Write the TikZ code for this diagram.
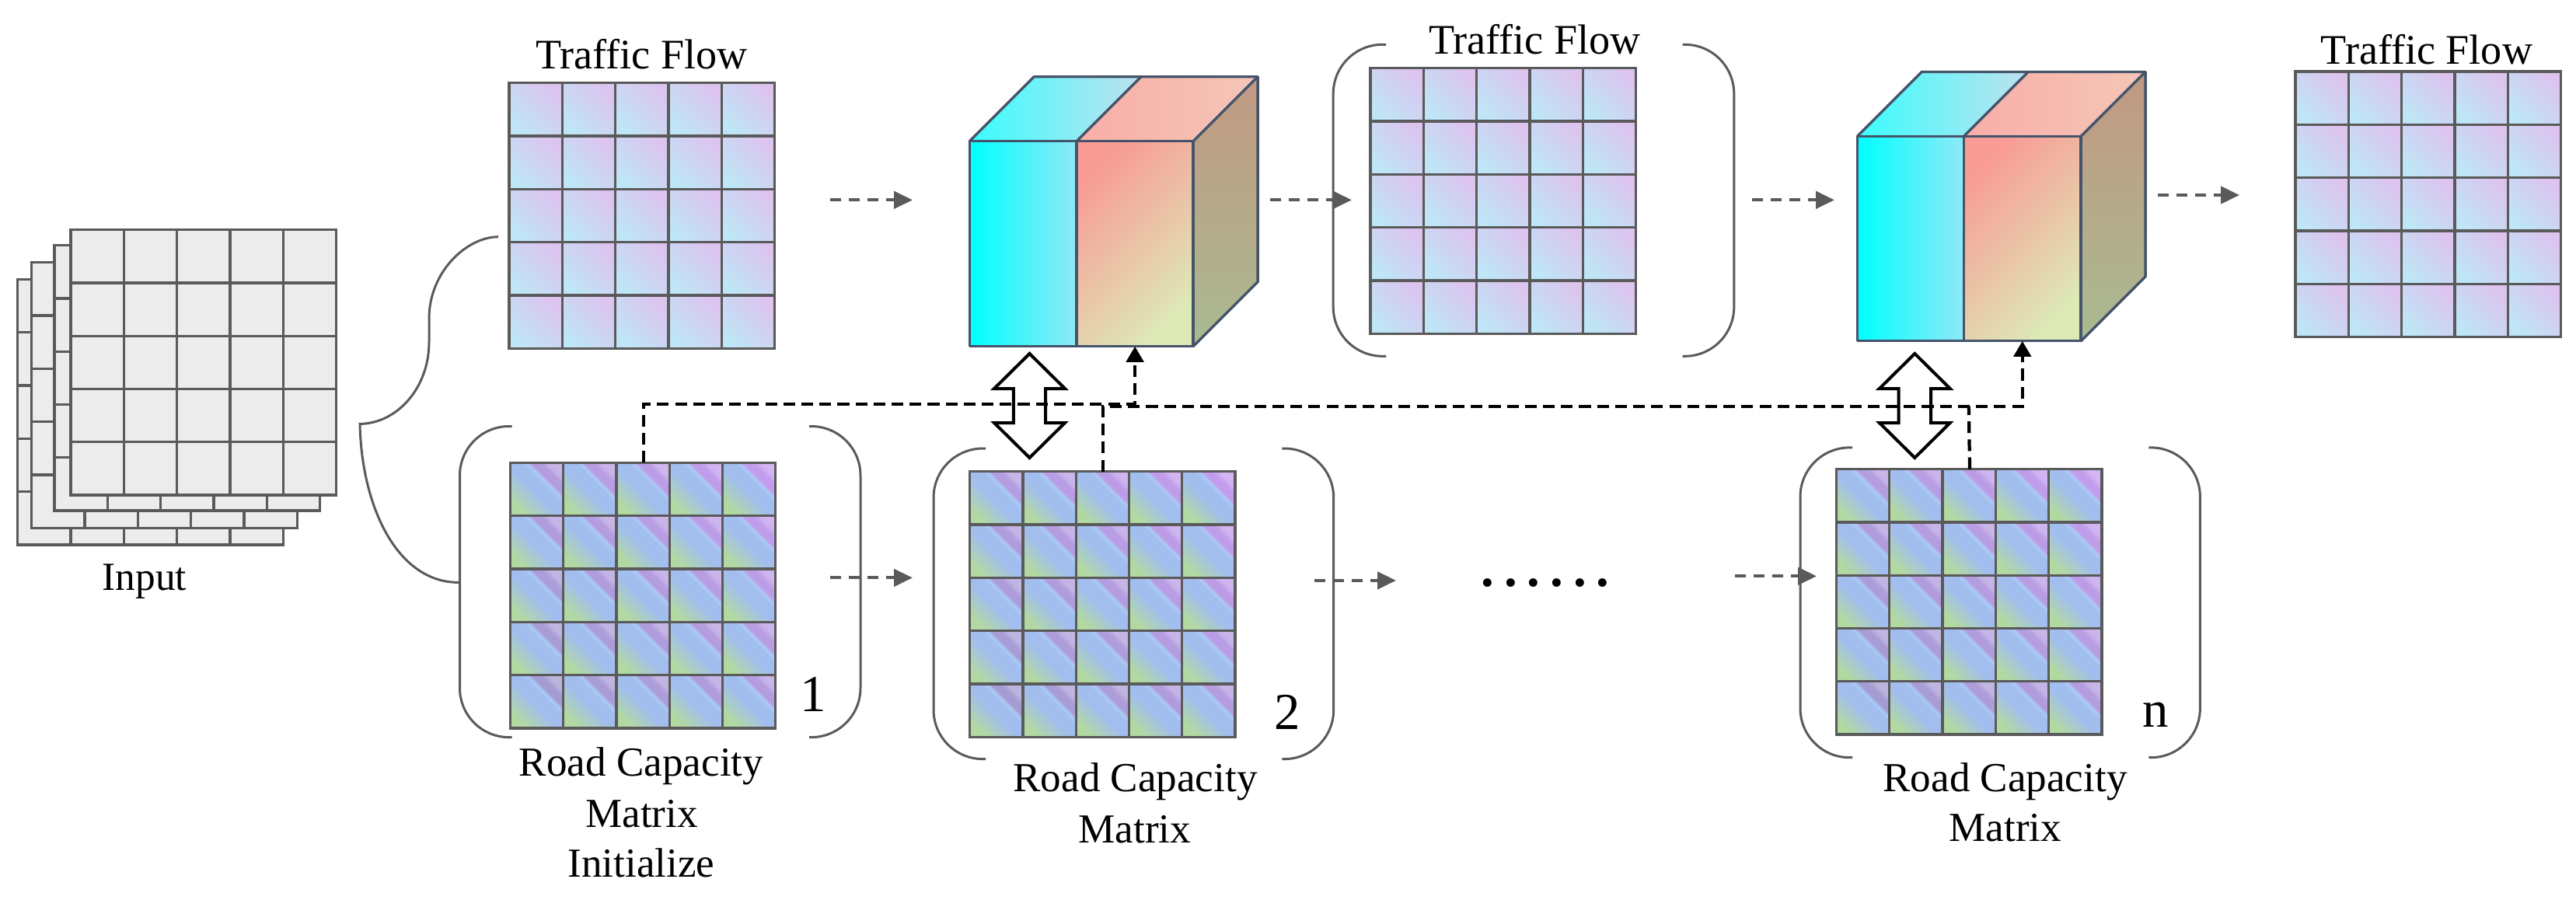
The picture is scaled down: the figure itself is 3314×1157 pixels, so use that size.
\documentclass[tikz,border=0pt]{standalone}
\usepackage{fontspec}
\setmainfont{Liberation Serif}
\usetikzlibrary{arrows.meta}

\definecolor{gridc}{HTML}{5A5A5A}
\definecolor{cubec}{HTML}{45546A}
\definecolor{inpfill}{HTML}{ECECEC}
\definecolor{tfA}{HTML}{BEE6F6}
\definecolor{tfB}{HTML}{DCC4EF}
\definecolor{rcG}{HTML}{B2D9A1}
\definecolor{rcBl}{HTML}{A2BEEE}
\definecolor{rcLt}{HTML}{ABCBF4}
\definecolor{rcPlo}{HTML}{A49CD2}
\definecolor{rcPhi}{HTML}{C49CEE}
\definecolor{cyA}{HTML}{00FFFF}
\definecolor{cyB}{HTML}{8FE9F6}
\definecolor{saA}{HTML}{F89C95}
\definecolor{saB}{HTML}{DDE9B7}
\definecolor{tlA}{HTML}{3AFDFD}
\definecolor{tlB}{HTML}{BFE1EE}
\definecolor{trA}{HTML}{F9AEA8}
\definecolor{trB}{HTML}{F4C6B7}
\definecolor{sdA}{HTML}{C29883}
\definecolor{sdB}{HTML}{A9BB90}
\colorlet{rcP}{rcPlo}
\colorlet{gA}{white}
\colorlet{gB}{white}

\pgfdeclarehorizontalshading[gA,gB]{hgrad}{100bp}{color(0bp)=(gA); color(25bp)=(gA); color(75bp)=(gB); color(100bp)=(gB)}
\pgfdeclarehorizontalshading[rcP]{rcgrad}{100bp}{color(0bp)=(rcG); color(25bp)=(rcG); color(47bp)=(rcBl); color(58bp)=(rcBl); color(61bp)=(rcLt); color(64bp)=(rcP); color(70bp)=(rcP); color(75bp)=(rcP!75!white); color(100bp)=(rcP!75!white)}

\tikzset{
  hg/.style n args={3}{shade, /utils/exec={\colorlet{gA}{#1}\colorlet{gB}{#2}}, shading=hgrad, shading angle=#3},
  gl/.style={draw=gridc, line width=0.94pt},
  brk/.style={draw=gridc, line width=0.85pt, rounded corners=18pt},
  bracecurve/.style={draw=gridc, line width=0.85pt},
  garrow/.style={draw=gridc, line width=1.14pt, dash pattern=on 4pt off 2.8pt, -{Triangle[length=6.8pt,width=6.3pt]}},
  bdash/.style={draw=black, line width=1.2pt, dash pattern=on 4.3pt off 2.3pt},
  barrow/.style={bdash, -{Triangle[length=5.7pt,width=6.3pt]}},
  dbl/.style={draw=black, line width=1.14pt, fill=white, line join=miter},
  cubeline/.style={draw=cubec, line width=0.94pt, line join=round},
  lbl/.style={inner sep=0pt, font=\fontsize{15.4pt}{18pt}\selectfont},
  inlbl/.style={inner sep=0pt, font=\fontsize{14.6pt}{18pt}\selectfont},
  rlbl/.style={inner sep=0pt, font=\fontsize{15.1pt}{18pt}\selectfont},
  num/.style={inner sep=0pt, font=\fontsize{19pt}{22pt}\selectfont},
  gbox/.style={inner sep=0pt, minimum width=3.415cm, minimum height=3.415cm, anchor=north west},
  tfcell/.style={hg={tfA}{tfB}{45}},
  rccell/.style={shade, /utils/exec={\pgfmathsetmacro\mixp{(\i+4-\j)*12.5}\colorlet{rcP}{rcPhi!\mixp!rcPlo}}, shading=rcgrad, shading angle=45},
  incell/.style={fill=inpfill},
}

\newcommand\drawgrid[4]{%
  \node[gbox] (#1) at (#2,#3) {};
  \foreach \i in {0,...,4}{\foreach \j in {0,...,4}{
    \path[#4] ({#2+\i*68.3},{#3+\j*68.3}) rectangle ++(68.3,68.3);}}
  \foreach \k in {1,...,4}{
    \draw[gl] ({#2+\k*68.3},#3) -- ++(0,341.5);
    \draw[gl] (#2,{#3+\k*68.3}) -- ++(341.5,0);}
  \draw[gl] (#2,#3) rectangle ++(341.5,341.5);
}

\newcommand\drawcube[6]{%
  \path[hg={cyA}{cyB}{0}] (#2,#5) rectangle (#3,#6);
  \path[hg={saA}{saB}{-45}] (#3,#5) rectangle (#4,#6);
  \path[hg={tlA}{tlB}{0}] (#2,#5) -- (#3,#5) -- ({#3+83},{#5-83}) -- ({#2+83},{#5-83}) -- cycle;
  \path[hg={trA}{trB}{0}] (#3,#5) -- (#4,#5) -- ({#4+83},{#5-83}) -- ({#3+83},{#5-83}) -- cycle;
  \path[hg={sdA}{sdB}{-90}] (#4,#5) -- ({#4+83},{#5-83}) -- ({#4+83},{#6-83}) -- (#4,#6) -- cycle;
  \draw[cubeline] (#2,#5) rectangle (#4,#6);
  \draw[cubeline] (#3,#5) -- (#3,#6);
  \draw[cubeline] (#2,#5) -- ({#2+83},{#5-83}) -- ({#4+83},{#5-83}) -- ({#4+83},{#6-83}) -- (#4,#6);
  \draw[cubeline] (#3,#5) -- ({#3+83},{#5-83});
  \draw[cubeline] (#4,#5) -- ({#4+83},{#5-83});
  \coordinate (#1R) at ({(#3+#4)/2},#6);
  \coordinate (#1L) at ({(#2+#3)/2},#6);
}

\newcommand\dblarrow[2]{%
  \coordinate (#1) at (#2,522);
  \draw[dbl] (#2,455) -- ({#2+45.5},500) -- ({#2+20.7},500) -- ({#2+20.7},544) -- ({#2+45.5},544) -- (#2,589) -- ({#2-45.5},544) -- ({#2-20.7},544) -- ({#2-20.7},500) -- ({#2-45.5},500) -- cycle;
}

\newcommand\dotrow{\makebox[8.42pt]{.}\makebox[8.42pt]{.}\makebox[8.42pt]{.}\makebox[8.42pt]{.}\makebox[8.42pt]{.}\makebox[8.42pt]{.}}

\begin{document}
\begin{tikzpicture}[x=0.01cm,y=-0.01cm]
\useasboundingbox (0,0) rectangle (3314,1157);

% brace from input
\draw[bracecurve] (641,304.7) .. controls (600,305) and (552,350) .. (552,410) -- (552,440) .. controls (552,500) and (510,545) .. (463,545.4) .. controls (465,650) and (510,749.4) .. (590,749.4);

% brackets
\draw[brk] (658.5,548.5) -- (591.5,548.5) -- (591.5,948.6) -- (658.5,948.6);
\draw[brk] (1041,548.5) -- (1107,548.5) -- (1107,948.6) -- (1041,948.6);
\draw[brk] (1268,577) -- (1201,577) -- (1201,976.6) -- (1268,976.6);
\draw[brk] (1649.4,577) -- (1715.7,577) -- (1715.7,976.6) -- (1649.4,976.6);
\draw[brk] (2383,575.9) -- (2316,575.9) -- (2316,974.7) -- (2383,974.7);
\draw[brk] (2764.3,575.9) -- (2830.4,575.9) -- (2830.4,974.7) -- (2764.3,974.7);
\draw[brk] (1783,57.3) -- (1715.2,57.3) -- (1715.2,458.3) -- (1783,458.3);
\draw[brk] (2164.7,57.3) -- (2230.8,57.3) -- (2230.8,458.3) -- (2164.7,458.3);

% input stack
\drawgrid{inp1}{22.7}{359.4}{incell}
\drawgrid{inp2}{40.7}{337.7}{incell}
\drawgrid{inp3}{70}{315.6}{incell}
\drawgrid{inp4}{91}{295.6}{incell}

% traffic flow grids
\drawgrid{tf1}{655}{106.7}{tfcell}
\drawgrid{tf2}{1763}{87.7}{tfcell}
\drawgrid{tf3}{2953}{92}{tfcell}

% road capacity grids
\drawgrid{rc1}{656.3}{595.4}{rccell}
\drawgrid{rc2}{1247.6}{606.7}{rccell}
\drawgrid{rcn}{2362.5}{603.6}{rccell}

% cubes
\drawcube{cA}{1247.3}{1385.1}{1535.1}{181.7}{445.7}
\drawcube{cB}{2389.3}{2526.4}{2677.1}{175.4}{438.8}

% double arrows
\dblarrow{da1}{1324.5}
\dblarrow{da2}{2463.3}

% black dashed connectors
\draw[barrow] (rc1.north) -- ++(0,-75.4) -| (cAR);
\draw[barrow] (rc2.north) -- ++(0,-84) -| (cBR);
\coordinate (bj) at (2532.8,522.7);
\draw[bdash] (rcn.north) -- (bj);

% grey dashed arrows
\coordinate (g1s) at (1068,257.3); \coordinate (g1e) at (1174,257.3);
\coordinate (g2s) at (1634,257.3); \coordinate (g2e) at (1739,257.3);
\coordinate (g3s) at (2254,257.3); \coordinate (g3e) at (2360,257.3);
\coordinate (g4s) at (2776,251);   \coordinate (g4e) at (2881,251);
\coordinate (g5s) at (1068,743.4); \coordinate (g5e) at (1174,743.4);
\coordinate (g6s) at (1691,746.9); \coordinate (g6e) at (1796,746.9);
\coordinate (g7s) at (2232,741.3); \coordinate (g7e) at (2337,741.3);
\draw[garrow] (g1s) -- (g1e);
\draw[garrow] (g2s) -- (g2e);
\draw[garrow] (g3s) -- (g3e);
\draw[garrow] (g4s) -- (g4e);
\draw[garrow] (g5s) -- (g5e);
\draw[garrow] (g6s) -- (g6e);
\draw[garrow] (g7s) -- (g7e);

% labels
\node[lbl, anchor=base] (tfl1) at (825.7,88.3) {Traffic Flow};
\node[lbl, anchor=base] (tfl2) at (1974.5,69) {Traffic Flow};
\node[lbl, anchor=base] (tfl3) at (3122,82.7) {Traffic Flow};
\node[inlbl, anchor=base] (inl) at (186,759.3) {Input};
\node[rlbl, anchor=base] (r1a) at (825,998.8) {Road Capacity};
\node[rlbl, anchor=base] (r1b) at (825.6,1064.7) {Matrix};
\node[rlbl, anchor=base] (r1c) at (825,1128) {Initialize};
\node[rlbl, anchor=base] (r2a) at (1460.5,1018.7) {Road Capacity};
\node[rlbl, anchor=base] (r2b) at (1460,1084.2) {Matrix};
\node[rlbl, anchor=base] (rna) at (2579.5,1018.2) {Road Capacity};
\node[rlbl, anchor=base] (rnb) at (2579.7,1082.5) {Matrix};
\node[num, anchor=base] (n1) at (1046.6,915.8) {1};
\node[num, anchor=base] (n2) at (1656,938) {2};
\node[num, anchor=base] (nn) at (2772.8,935.3) {n};
\node[num, anchor=base] (dots) at (1988,754) {\bfseries\dotrow};
\end{tikzpicture}
\end{document}
